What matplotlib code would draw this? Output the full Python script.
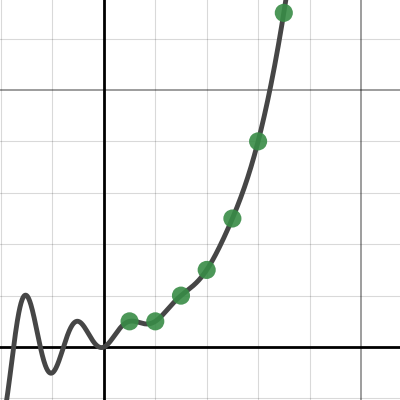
import numpy as np
import matplotlib.pyplot as plt

# sample points (x, y)
pts_x = [0.5, 1.0, 1.5, 2.0, 2.5, 3.0, 3.5]
pts_y = [0.5, 0.5, 1.0, 1.5, 2.5, 4.0, 6.5]

phi = (1 + 5 ** 0.5) / 2


def fib_half(x):
    t = 2 * x
    return (phi ** t - np.cos(np.pi * t) * phi ** (-t)) / 5 ** 0.5 / 2


fig = plt.figure(figsize=(4, 4), dpi=100)
ax = fig.add_axes([0, 0, 1, 1])
xmin, xmax = -2.02, 5.76
ymin, ymax = -1.03, 6.75
ax.set_xlim(xmin, xmax)
ax.set_ylim(ymin, ymax)

for v in range(-2, 6):
    ax.axvline(v, color="#000000", lw=1.2 if v == 5 else 0.8, alpha=0.45 if v == 5 else 0.15, zorder=0)
for v in range(-1, 7):
    ax.axhline(v, color="#000000", lw=1.2 if v == 5 else 0.8, alpha=0.45 if v == 5 else 0.15, zorder=0)
ax.axvline(0, color="black", lw=2, zorder=1)
ax.axhline(0, color="black", lw=2, zorder=1)

xs = np.linspace(xmin, 3.7, 800)
ax.plot(xs, fib_half(xs), color="#464646", lw=3.5, zorder=2, solid_capstyle="round")
ax.scatter(pts_x, pts_y, s=170, color="#388c46", alpha=0.9, zorder=3, edgecolors="none")

ax.set_axis_off()
fig.savefig("out.png", dpi=100)
